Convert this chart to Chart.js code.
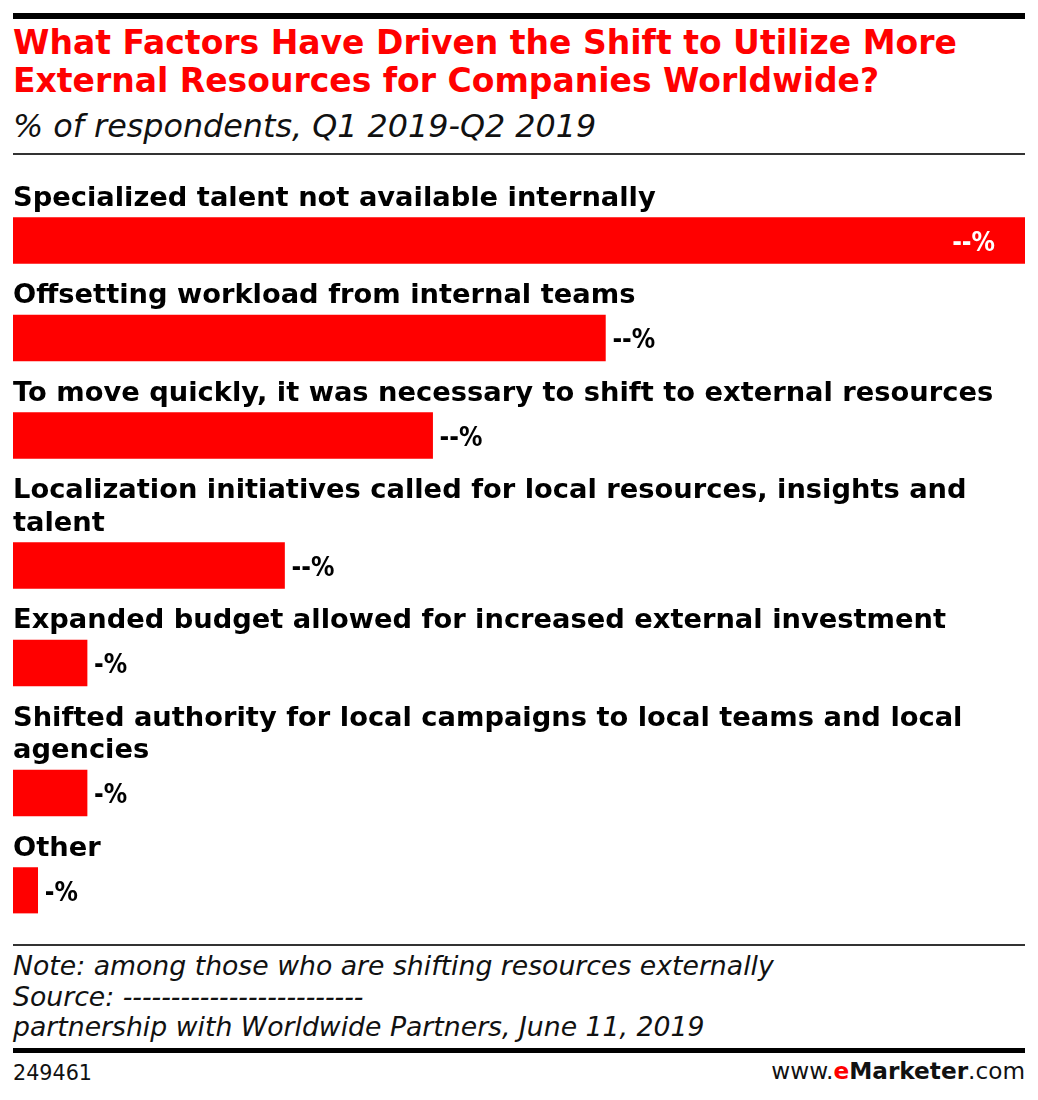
<!DOCTYPE html>
<html>
<head>
<meta charset="utf-8">
<script src="https://cdn.jsdelivr.net/npm/chart.js@4.4.1/dist/chart.umd.min.js"></script>
<style>
body{margin:0;background:#fff;width:1038px;height:1100px;position:relative;overflow:hidden;font-family:"DejaVu Sans",sans-serif;}
.rule{position:absolute;left:13px;width:1012px;background:#000;}
#title{position:absolute;left:13px;top:24px;color:#f00;font:bold 33px/38px "DejaVu Sans",sans-serif;white-space:nowrap;}
#subtitle{position:absolute;left:13px;top:107px;font:italic 31.8px/38px "DejaVu Sans",sans-serif;color:#111;white-space:nowrap;}
#chartbox{position:absolute;left:13px;top:170px;width:1012px;height:760px;}
#note{position:absolute;left:13px;top:951px;font:italic 26.7px/30.5px "DejaVu Sans",sans-serif;color:#111;white-space:nowrap;}
#id{position:absolute;left:13px;top:1061px;font:20.7px "DejaVu Sans",sans-serif;color:#111;}
#brand{position:absolute;right:13px;top:1057px;font:23.2px "DejaVu Sans",sans-serif;color:#111;}
#brand b{font-weight:bold;}
#brand .e{color:#f00;}
</style>
</head>
<body>
<div class="rule" style="top:13px;height:6px"></div>
<div id="title">What Factors Have Driven the Shift to Utilize More<br>External Resources for Companies Worldwide?</div>
<div id="subtitle">% of respondents, Q1 2019-Q2 2019</div>
<div class="rule" style="top:153px;height:2px;background:#333"></div>
<div id="chartbox"><canvas id="chart"></canvas></div>
<div class="rule" style="top:944px;height:2px;background:#333"></div>
<div id="note">Note: among those who are shifting resources externally<br>Source: -------------------------<br>partnership with Worldwide Partners, June 11, 2019</div>
<div class="rule" style="top:1048px;height:5px"></div>
<div id="id">249461</div>
<div id="brand">www.<b class="e">e</b><b>Marketer</b>.com</div>
<script>
// categories, drawn as label lines above each bar
const categories = [
    ['Specialized talent not available internally'],
    ['Offsetting workload from internal teams'],
    ['To move quickly, it was necessary to shift to external resources'],
    ['Localization initiatives called for local resources, insights and', 'talent'],
    ['Expanded budget allowed for increased external investment'],
    ['Shifted authority for local campaigns to local teams and local', 'agencies'],
    ['Other']
];
const values = [41, 24, 17, 11, 3, 3, 1];
const value_labels = ['--%', '--%', '--%', '--%', '-%', '-%', '-%'];

const line_h = 32.5;
const bar_h = 46;
const row_gap = 19;

// stack rows: label lines then bar
let rows = [];
let pos = 0;
for (let i = 0; i < categories.length; i++) {
    const center = pos + categories[i].length * line_h + bar_h / 2;
    rows.push({x: values[i], y: center});
    pos += categories[i].length * line_h + bar_h + row_gap;
}
const total_h = pos - row_gap;

const labelFont = 'bold 27.3px "DejaVu Sans", sans-serif';
const valueFont = 'bold 26px "DejaVu Sans Condensed", "DejaVu Sans", sans-serif';

const labelPlugin = {
    id: 'rowLabels',
    afterDatasetsDraw(chart) {
        const ctx = chart.ctx;
        const area = chart.chartArea;
        const bars = chart.getDatasetMeta(0).data;
        ctx.save();
        ctx.textBaseline = 'alphabetic';
        for (let i = 0; i < bars.length; i++) {
            const b = bars[i];
            const top = b.y - b.height / 2;
            const lines = categories[i];
            ctx.font = labelFont;
            ctx.fillStyle = '#000';
            ctx.textAlign = 'left';
            for (let k = 0; k < lines.length; k++) {
                const base = top - 12 - (lines.length - 1 - k) * line_h;
                ctx.fillText(lines[k], area.left, base);
            }
            ctx.font = valueFont;
            const w = ctx.measureText(value_labels[i]).width;
            const ty = b.y + 10;
            if (b.x + 8 + w > area.right) {
                ctx.fillStyle = '#fff';
                ctx.textAlign = 'right';
                ctx.fillText(value_labels[i], b.x - 30, ty);
            } else {
                ctx.fillStyle = '#000';
                ctx.textAlign = 'left';
                ctx.fillText(value_labels[i], b.x + 7, ty);
            }
        }
        ctx.restore();
    }
};

new Chart(document.getElementById('chart'), {
    type: 'bar',
    data: {
        datasets: [{
            data: rows,
            backgroundColor: '#ff0000',
            barThickness: bar_h
        }]
    },
    options: {
        indexAxis: 'y',
        responsive: true,
        maintainAspectRatio: false,
        animation: false,
        layout: {padding: {top: 15, bottom: 760 - 15 - total_h, left: 0, right: 0}},
        plugins: {legend: {display: false}, tooltip: {enabled: false}},
        scales: {
            x: {type: 'linear', min: 0, max: 41, display: false},
            y: {type: 'linear', min: 0, max: total_h, reverse: true, offset: false, grid: {offset: false}, display: false}
        }
    },
    plugins: [labelPlugin]
});
</script>
</body>
</html>
